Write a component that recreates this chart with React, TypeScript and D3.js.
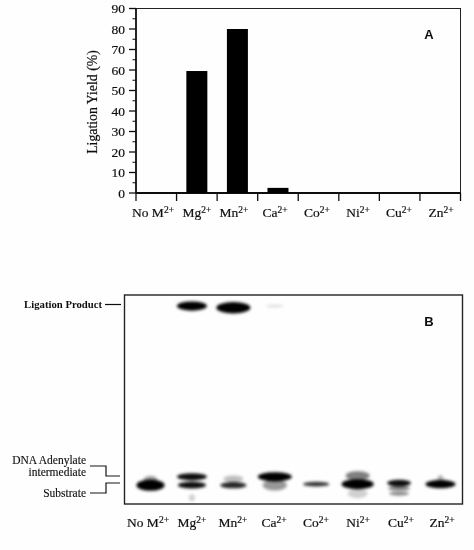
import React from "react";
import * as d3 from "d3";

const W = 474, H = 550;
const ions = ["No M", "Mg", "Mn", "Ca", "Co", "Ni", "Cu", "Zn"];
const yields = [0, 59.5, 80, 2.5, 0, 0, 0, 0];
const yTicks = [0, 10, 20, 30, 40, 50, 60, 70, 80, 90];
const yMinorTicks = [5, 15, 25, 35, 45, 55, 65, 75, 85];

// Gel bands: lane index, migration (% of gel height), half width, half thickness (gel units), intensity
const bandLane =      [1, 2, 3, 0, 0, 1, 1, 1, 2, 2, 3, 3, 4, 5, 5, 5, 6, 6, 6, 7, 7];
const bandMigration = [5.3, 6.1, 5.3, 91, 88.5, 87, 91, 97, 91, 88, 87, 91, 90.5, 90.5, 86.5, 95, 90, 92.5, 95, 90.5, 88];
const bandSpread =    [15, 17, 9, 14, 7, 15, 14, 3, 13, 10, 17, 12, 13, 16, 12, 10, 12, 11, 10, 15, 3];
const bandThick =     [2.2, 2.7, 0.7, 2.7, 2, 1.7, 1.6, 1.7, 1.5, 1.6, 2.2, 2.6, 1.1, 2.4, 2.2, 2.2, 1.6, 1.1, 1, 2.0, 1.8];
const bandInk =       [1, 1, 0.12, 1, 0.35, 0.95, 0.95, 0.18, 0.85, 0.25, 1, 0.4, 0.8, 1, 0.5, 0.18, 0.95, 0.5, 0.45, 1, 0.3];

const xA = d3.scaleBand<string>().domain(ions).range([136, 460.5]);
const yA = d3.scaleLinear().domain([0, 90]).range([193, 8.5]);
const laneX = d3.scalePoint<string>().domain(ions).range([150.5, 440.5]);
const gelY = d3.scaleLinear().domain([0, 100]).range([295, 504]);
const serif = "'Liberation Serif', serif";

function IonLabel({ ion, x, y }: { ion: string; x: number; y: number }) {
  return (
    <text x={x} y={y} textAnchor="middle" fontFamily={serif} fontSize={13.5} fill="#111" stroke="#111" strokeWidth={0.2}>
      {ion}
      <tspan fontSize={9.5} dy={-4}>2+</tspan>
    </text>
  );
}

export default function App() {
  const edges = [...ions.map((d) => xA(d)!), xA.range()[1]];
  const thickToPx = (t: number) => gelY(t) - gelY(0);
  return (
    <svg width={W} height={H} style={{ position: "absolute", left: 0, top: 0, background: "#fefefe" }}>
      <defs>
        <filter id="scan"><feGaussianBlur stdDeviation="0.45" /></filter>
        <filter id="gel" x="-40%" y="-80%" width="180%" height="260%"><feGaussianBlur stdDeviation="1.4" /></filter>
      </defs>
      <g filter="url(#scan)">
        {/* Panel A */}
        <rect x={136} y={yA(90)} width={324.5} height={yA(0) - yA(90)} fill="none" stroke="#222" strokeWidth={1} />
        <line x1={136} x2={136} y1={yA(90)} y2={yA(0)} stroke="#111" strokeWidth={1.6} />
        <line x1={136} x2={461} y1={yA(0)} y2={yA(0)} stroke="#111" strokeWidth={1.8} />
        {ions.map((d, i) =>
          yields[i] > 0 ? (
            <rect key={d} x={xA(d)! + xA.bandwidth() / 2 - 10.5} y={yA(yields[i])} width={21} height={yA(0) - yA(yields[i])} fill="#050505" />
          ) : null
        )}
        {yTicks.map((t) => (
          <g key={t}>
            <line x1={129} x2={136} y1={yA(t)} y2={yA(t)} stroke="#111" strokeWidth={1.3} />
            <text x={125} y={yA(t) + 4.5} textAnchor="end" fontFamily={serif} fontSize={13.5} fill="#111" stroke="#111" strokeWidth={0.2}>{t}</text>
          </g>
        ))}
        {yMinorTicks.map((t) => (
          <line key={t} x1={132.5} x2={136} y1={yA(t)} y2={yA(t)} stroke="#111" strokeWidth={1} />
        ))}
        {edges.map((e, i) => (
          <line key={i} x1={e} x2={e} y1={yA(0)} y2={yA(0) + 8} stroke="#111" strokeWidth={1.3} />
        ))}
        {ions.map((d, i) => (
          <IonLabel key={d} ion={d} x={[153, 197, 234, 275, 317, 358, 399, 441][i]} y={217} />
        ))}
        <text transform="translate(97,102) rotate(-90)" textAnchor="middle" fontFamily={serif} fontSize={13.8} fill="#111" stroke="#111" strokeWidth={0.2}>Ligation Yield (%)</text>
        <text x={429} y={39} textAnchor="middle" fontFamily="'Liberation Sans', sans-serif" fontWeight={700} fontSize={13} fill="#111">A</text>

        {/* Panel B */}
        <rect x={124.5} y={gelY(0)} width={338} height={gelY(100) - gelY(0)} fill="none" stroke="#222" strokeWidth={1.4} />
        <text x={429} y={326} textAnchor="middle" fontFamily="'Liberation Sans', sans-serif" fontWeight={700} fontSize={13} fill="#111">B</text>
        <text x={102} y={308} textAnchor="end" fontFamily={serif} fontWeight={700} fontSize={10.7} fill="#111">Ligation Product</text>
        <line x1={105} x2={121} y1={304.5} y2={304.5} stroke="#111" strokeWidth={1.2} />
        <text x={86} y={464} textAnchor="end" fontFamily={serif} fontSize={11.5} fill="#111" stroke="#111" strokeWidth={0.15}>DNA Adenylate</text>
        <text x={86} y={476} textAnchor="end" fontFamily={serif} fontSize={11.5} fill="#111" stroke="#111" strokeWidth={0.15}>intermediate</text>
        <text x={86} y={497} textAnchor="end" fontFamily={serif} fontSize={11.5} fill="#111" stroke="#111" strokeWidth={0.15}>Substrate</text>
        <path d="M90,466H106V476H120M90,493H106V483H120" fill="none" stroke="#111" strokeWidth={1.2} />
        {ions.map((d, i) => (
          <IonLabel key={d} ion={d} x={[148, 192, 233, 274, 316, 358, 401, 442][i]} y={527} />
        ))}
      </g>
      <g filter="url(#gel)">
        {bandLane.map((lane, i) => (
          <ellipse
            key={i}
            cx={laneX(ions[lane])!}
            cy={gelY(bandMigration[i])}
            rx={bandSpread[i]}
            ry={thickToPx(bandThick[i])}
            fill="#000"
            opacity={bandInk[i]}
          />
        ))}
      </g>
    </svg>
  );
}
